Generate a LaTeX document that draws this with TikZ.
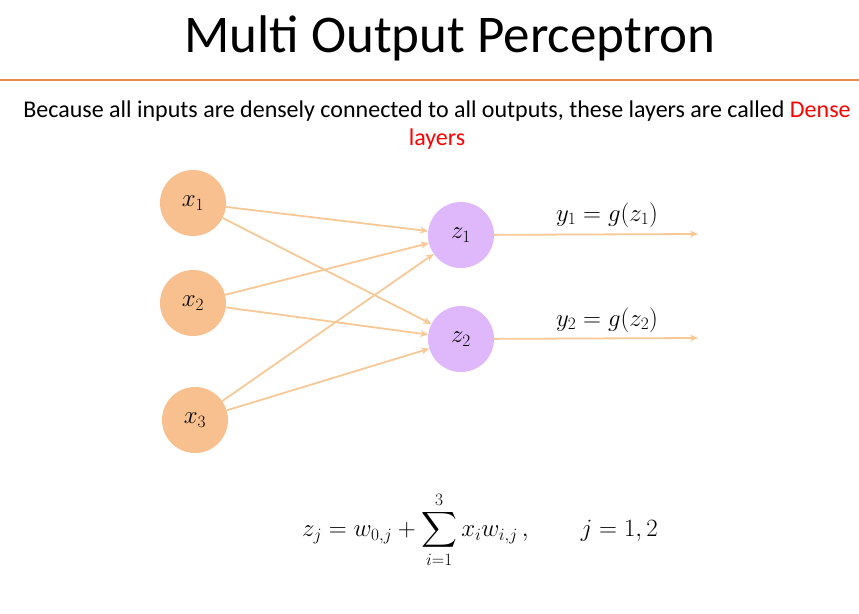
\documentclass[tikz,border=0pt]{standalone}
\usepackage{fontspec}
\setmainfont{Carlito}
\usepackage{amsmath}
\usetikzlibrary{arrows.meta}
\definecolor{inor}{RGB}{248,192,142}
\definecolor{outp}{RGB}{222,184,250}
\definecolor{edg}{RGB}{248,200,150}
\definecolor{rule}{RGB}{232,140,80}
\tikzset{inn/.style={circle,fill=inor,minimum size=66pt,inner sep=0pt,font=\fontsize{24}{28}\selectfont},
outn/.style={circle,fill=outp,minimum size=66pt,inner sep=0pt,font=\fontsize{24}{28}\selectfont},
con/.style={draw=edg,line width=1.8pt,-{Stealth[length=8pt,width=7pt]}}}
\begin{document}
\begin{tikzpicture}[x=1pt,y=-1pt]
\useasboundingbox (0,0) rectangle (859,613);
\node (title) at (450,38) {\fontsize{53}{60}\selectfont Multi Output Perceptron};
\coordinate (r1) at (0,80); \coordinate (r2) at (859,80);
\draw[rule,line width=2.5pt] (r1) -- (r2);
\node (sub) at (437,111) {\fontsize{24}{28}\selectfont Because all inputs are densely connected to all outputs, these layers are called \textcolor{red}{Dense}};
\node (sub2) at (437,139) {\fontsize{24}{28}\selectfont\textcolor{red}{layers}};
\node[inn] (x1) at (193,203) {$x_1$};
\node[inn] (x2) at (193,303) {$x_2$};
\node[inn] (x3) at (195,420) {$x_3$};
\node[outn] (z1) at (461,235) {$z_1$};
\node[outn] (z2) at (461,339) {$z_2$};
\foreach \a in {x1,x2,x3}{\foreach \b in {z1,z2}{\draw[con] (\a) -- (\b);}}
\coordinate (o1) at (698,234);
\coordinate (o2) at (698,338);
\draw[con] (z1) -- (o1);
\draw[con] (z2) -- (o2);
\node (l1) at (607,215) {\fontsize{24}{28}\selectfont $y_1=g(z_1)$};
\node (l2) at (607,320) {\fontsize{24}{28}\selectfont $y_2=g(z_2)$};
\node (eq) at (480,530) {\fontsize{24}{28}\selectfont $\displaystyle z_j = w_{0,j}+\sum_{i=1}^{3} x_i w_{i,j}\,,\qquad j=1,2$};
\end{tikzpicture}
\end{document}
